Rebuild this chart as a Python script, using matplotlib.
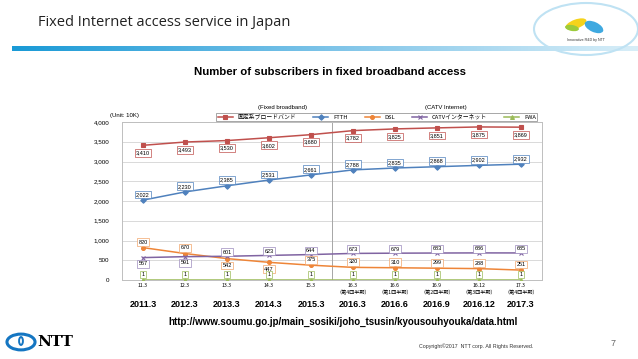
import numpy as np
import matplotlib
matplotlib.use("Agg")
import matplotlib.pyplot as plt
from matplotlib.patches import Ellipse, Circle

# data (unit: 10K subscribers)
periods = ["11.3", "12.3", "13.3", "14.3", "15.3", "16.3", "16.6", "16.9", "16.12", "17.3"]
quarters = ["", "", "", "", "", "第4四半期", "第1四半期", "第2四半期", "第3四半期", "第4四半期"]
years = ["2011.3", "2012.3", "2013.3", "2014.3", "2015.3", "2016.3", "2016.6", "2016.9", "2016.12", "2017.3"]
total = [3410, 3493, 3530, 3602, 3680, 3782, 3825, 3851, 3875, 3869]
ftth = [2022, 2230, 2385, 2531, 2661, 2788, 2835, 2868, 2902, 2932]
dsl = [820, 670, 542, 447, 375, 320, 310, 299, 288, 251]
catv = [567, 591, 601, 623, 644, 673, 679, 683, 686, 685]
fwa = [1, 1, 1, 1, 1, 1, 1, 1, 1, 1]

W, H = 638, 359
JP = ["Noto Sans CJK JP", "DejaVu Sans"]
plt.rcParams["font.family"] = ["Liberation Sans", "Noto Sans CJK JP"]


def fx(x):
    return x / W


def fy(y):
    return 1 - y / H


fig = plt.figure(figsize=(W / 100, H / 100), dpi=100)
fig.patch.set_facecolor("white")

# header
fig.text(fx(38), fy(22), "Fixed Internet access service in Japan", family="Open Sans",
         fontsize=10.5, va="center", ha="left", color="#222222")
bar = fig.add_axes([fx(12), fy(51), fx(626), 5 / H])
grad = np.linspace(0, 1, 256).reshape(1, -1)
bar.imshow(grad, aspect="auto", cmap=matplotlib.colors.LinearSegmentedColormap.from_list(
    "hdr", ["#1A9AD6", "#7CC3E8", "#D8EEF8"]), extent=[0, 1, 0, 1])
bar.axis("off")

# top right logo
logo = fig.add_axes([fx(528), fy(58), fx(110), 58 / H])
logo.set_xlim(0, 110)
logo.set_ylim(0, 58)
logo.axis("off")
logo.add_patch(Ellipse((58, 29), 104, 52, fill=False, ec="#BFE2F3", lw=1.5))
logo.add_patch(Ellipse((48, 34), 22, 9, angle=20, fc="#F5D31B", ec="none"))
logo.add_patch(Ellipse((44, 30), 14, 6, angle=-10, fc="#9CCB3B", ec="none"))
logo.add_patch(Ellipse((66, 31), 20, 10, angle=-25, fc="#3FA9E0", ec="none"))
logo.text(58, 18, "Innovative R&D by NTT", fontsize=2.6, ha="center", va="center", color="#333333")

fig.text(fx(330), fy(72), "Number of subscribers in fixed broadband access",
         fontsize=8.2, weight="bold", ha="center", va="center")

# chart
ax = fig.add_axes([fx(122), fy(280), fx(420), 158 / H])
x = np.arange(len(periods))
series = [
    ("固定系ブロードバンド", total, "#C0504D", "s"),
    ("FTTH", ftth, "#4F81BD", "D"),
    ("DSL", dsl, "#EE8538", "o"),
    ("CATVインターネット", catv, "#8064A2", "x"),
    ("FWA", fwa, "#9BBB59", "^"),
]
for name, vals, col, mk in series:
    ax.plot(x, vals, color=col, lw=1.1, marker=mk, ms=2.8, mew=0.8, label=name, zorder=3)

ax.set_xlim(-0.5, len(periods) - 0.5)
ax.set_ylim(0, 4000)
ax.set_yticks(np.arange(0, 4001, 500))
ax.yaxis.set_major_formatter(matplotlib.ticker.FuncFormatter(lambda v, p: f"{int(v):,}"))
ax.grid(axis="y", color="#D9D9D9", lw=0.7)
ax.set_axisbelow(True)
ax.set_xticks(x)
ax.set_xticklabels([p if not q else f"{p}\n（{q}）" for p, q in zip(periods, quarters)],
                   fontsize=3.7, family=JP, linespacing=1.45)
ax.tick_params(axis="y", labelsize=4.5, length=0, pad=9)
ax.tick_params(axis="x", length=0, pad=2)
for s in ax.spines.values():
    s.set_color("#BFBFBF")
    s.set_linewidth(0.7)
ax.axvline(4.5, color="#A6A6A6", lw=0.7, zorder=1)


def label(vals, col, offsets):
    for i, (v, dy) in enumerate(zip(vals, offsets)):
        ax.annotate(f"{v:,}", (i, v), xytext=(0, dy), textcoords="offset points",
                    ha="center", va="center", fontsize=4.0, zorder=5,
                    bbox=dict(boxstyle="square,pad=0.25", fc="white", ec=col, lw=0.5))


n = len(periods)
label(total, "#C0504D", [-5.5] * n)
label(ftth, "#4F81BD", [4] * n)
dsl_side = [4 if (d > c or i >= 4) else -5 for i, (d, c) in enumerate(zip(dsl, catv))]
catv_side = [3 if (c > d or i >= 4) else -4.5 for i, (d, c) in enumerate(zip(dsl, catv))]
label(dsl, "#F2A56B", dsl_side)
label(catv, "#9C8BBD", catv_side)
label(fwa, "#9BBB59", [4] * n)

ax.text(-0.78, 4110, "(Unit: 10K)", fontsize=4.3, ha="left", va="bottom")
leg = ax.legend(loc="lower right", bbox_to_anchor=(0.99, 1.0), ncol=5,
                prop={"family": JP, "size": 4.2}, frameon=True, fancybox=False,
                edgecolor="#7F7F7F", borderpad=0.25, handlelength=2.6, columnspacing=2.9,
                handletextpad=0.8, borderaxespad=0.1)
leg.get_frame().set_linewidth(0.6)
fig.text(fx(282), fy(108), "(Fixed broadband)", fontsize=4.3, ha="center", va="center")
fig.text(fx(446), fy(108), "(CATV Internet)", fontsize=4.3, ha="center", va="center")

for i, yr in enumerate(years):
    ax.text(i, -0.152, yr, transform=ax.get_xaxis_transform(), fontsize=6.5,
            weight="bold", ha="center", va="center")

fig.text(fx(343), fy(322), "http://www.soumu.go.jp/main_sosiki/joho_tsusin/kyousouhyouka/data.html",
         fontsize=7, weight="bold", ha="center", va="center")

# footer
fig.patches.append(Circle((fx(21), fy(342)), 0.022, transform=fig.transFigure,
                          fill=False, ec="#1576C2", lw=2.2))
fig.patches.append(Ellipse((fx(21), fy(341)), 0.006, 0.022, transform=fig.transFigure,
                           fill=False, ec="#1576C2", lw=1.4))
fig.text(fx(37), fy(342), "NTT", family="DejaVu Serif", fontsize=11, weight="bold",
         ha="left", va="center")
fig.text(fx(476), fy(346), "Copyright©2017  NTT corp. All Rights Reserved.", fontsize=3.8,
         ha="center", va="center", color="#333333")
fig.text(fx(613), fy(344), "7", fontsize=6.5, ha="center", va="center", color="#666666")

fig.savefig("out.png", dpi=100)
